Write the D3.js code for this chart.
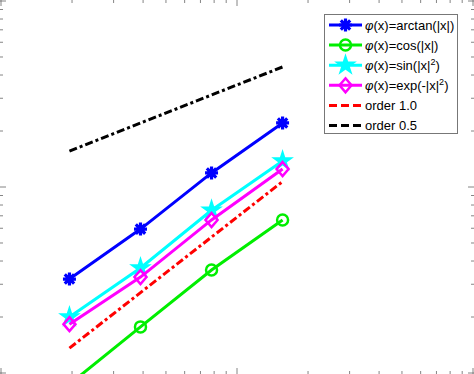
<!DOCTYPE html>
<html>
<head>
<meta charset="utf-8">
<script src="https://cdn.jsdelivr.net/npm/d3@7"></script>
<style>
  body { margin: 0; background: #fff; }
  svg { display: block; }
  text { font-family: "Liberation Sans", Arial, sans-serif; }
</style>
</head>
<body>
<svg id="chart"></svg>
<script>
// data (log-log convergence plot)
const hValues = [1.95, 3.9, 7.8, 15.6];
const arctanErr = [3.2e-3, 5.94e-3, 1.19e-2, 2.21e-2];
const cosErr = [8.7e-4, 1.77e-3, 3.58e-3, 6.65e-3];
const sinErr = [2.0e-3, 3.67e-3, 7.5e-3, 1.38e-2];
const expErr = [1.83e-3, 3.28e-3, 6.65e-3, 1.25e-2];
const orderX = [1.95, 15.6];
const order1 = [1.36e-3, 1.07e-2];
const order05 = [1.56e-2, 4.42e-2];
const legendLabels = ["arctan(|x|)", "cos(|x|)", "sin(|x|", "exp(-|x|", "order 1.0", "order 0.5"];

const width = 474;
const height = 374;

const xScale = d3.scaleLog().domain([1, 100]).range([1, 473]);
const yScale = d3.scaleLog().domain([1e-3, 1e-1]).range([373, 1]);

const svg = d3.select("#chart")
    .attr("width", width)
    .attr("height", height);

svg.append("defs").append("clipPath")
    .attr("id", "clip")
    .append("rect")
    .attr("x", 0).attr("y", 0)
    .attr("width", width).attr("height", height);

// ticks on all four sides, majors longer
const isMajor = v => Math.abs(Math.log10(v) - Math.round(Math.log10(v))) < 1e-6;
const tickG = svg.append("g").attr("stroke", "#666").attr("stroke-width", 0.8);
xScale.ticks().forEach(v => {
    const x = xScale(v), len = isMajor(v) ? 6 : 3;
    tickG.append("line").attr("x1", x).attr("x2", x).attr("y1", 374).attr("y2", 374 - len);
    tickG.append("line").attr("x1", x).attr("x2", x).attr("y1", 0).attr("y2", len);
});
yScale.ticks().forEach(v => {
    const y = yScale(v), len = isMajor(v) ? 6 : 3;
    tickG.append("line").attr("x1", 0).attr("x2", len).attr("y1", y).attr("y2", y);
    tickG.append("line").attr("x1", 474).attr("x2", 474 - len).attr("y1", y).attr("y2", y);
});

// marker shapes
function asterisk(g, c) {
    const r = 6.5, d = r * 0.72;
    g.append("path")
        .attr("d", `M${-r},0L${r},0M0,${-r}L0,${r}M${-d},${-d}L${d},${d}M${-d},${d}L${d},${-d}`)
        .attr("stroke", c).attr("stroke-width", 3.2).attr("fill", "none");
    g.append("circle").attr("r", 3.5).attr("fill", c);
}
function circle(g, c) {
    g.append("circle").attr("r", 5.5).attr("stroke", c).attr("stroke-width", 2.5).attr("fill", "none");
}
function star(g, c) {
    g.append("path").attr("d", d3.symbol(d3.symbolStar, 85)())
        .attr("stroke", c).attr("stroke-width", 2).attr("fill", c).attr("stroke-linejoin", "miter");
}
function diamond(g, c) {
    g.append("path").attr("d", "M0,-7L6,0L0,7L-6,0Z")
        .attr("stroke", c).attr("stroke-width", 2.5).attr("fill", "none");
}

const series = [
    { values: arctanErr, color: "#0000ff", marker: asterisk },
    { values: cosErr, color: "#00ee00", marker: circle },
    { values: sinErr, color: "#00ffff", marker: star },
    { values: expErr, color: "#ff00ff", marker: diamond }
];

const plot = svg.append("g").attr("clip-path", "url(#clip)");
const line = d3.line().x(d => xScale(d[0])).y(d => yScale(d[1]));

series.forEach(s => {
    const pts = hValues.map((h, i) => [h, s.values[i]]);
    plot.append("path").attr("d", line(pts))
        .attr("fill", "none").attr("stroke", s.color).attr("stroke-width", 3);
    pts.forEach(p => {
        const g = plot.append("g").attr("transform", `translate(${xScale(p[0])},${yScale(p[1])})`);
        s.marker(g, s.color);
    });
});

const refLines = [
    { values: order1, color: "#ff0000" },
    { values: order05, color: "#000000" }
];
refLines.forEach(r => {
    plot.append("path").attr("d", line(orderX.map((x, i) => [x, r.values[i]])))
        .attr("fill", "none").attr("stroke", r.color).attr("stroke-width", 3)
        .attr("stroke-dasharray", "8,3,3,3");
});

// legend
const legend = svg.append("g");
legend.append("rect")
    .attr("x", 324.5).attr("y", 14.5).attr("width", 133).attr("height", 119)
    .attr("fill", "#fff").attr("stroke", "#777").attr("stroke-width", 1);

const legendItems = series.map(s => ({ color: s.color, marker: s.marker }))
    .concat(refLines.map(r => ({ color: r.color, dashed: true })));

legendItems.forEach((item, i) => {
    const y = 25 + i * 20.1;
    const g = legend.append("g");
    g.append("line").attr("x1", 329).attr("x2", 362).attr("y1", y).attr("y2", y)
        .attr("stroke", item.color).attr("stroke-width", 3)
        .attr("stroke-dasharray", item.dashed ? "8,4" : null);
    if (item.marker) item.marker(g.append("g").attr("transform", `translate(345.5,${y})`), item.color);

    const t = g.append("text").attr("x", 365).attr("y", y + 4.5)
        .attr("font-size", 13).attr("fill", "#000");
    if (i < 4) {
        t.append("tspan").attr("font-style", "italic").text("φ");
        t.append("tspan").text("(x)=" + legendLabels[i]);
        if (i >= 2) {
            t.append("tspan").attr("font-size", 9).attr("dy", -5).text("2");
            t.append("tspan").attr("dy", 5).text(")");
        }
    } else {
        t.text(legendLabels[i]);
    }
});
</script>
</body>
</html>
